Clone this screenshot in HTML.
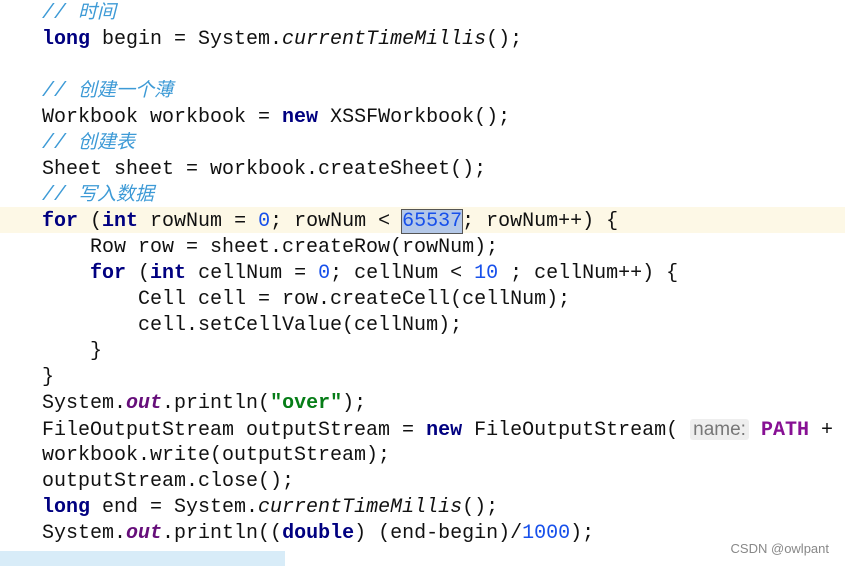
<!DOCTYPE html>
<html><head><meta charset="utf-8"><style>
body{margin:0;width:845px;height:566px;background:#fff;position:relative;overflow:hidden}
.code{position:absolute;left:42px;top:1px;font:20px "Liberation Mono","Noto Sans CJK SC",monospace;color:#111}
.code div{height:26px;line-height:26px;white-space:pre;overflow:visible}
.c{color:#3d9ad6;font-style:italic}
.c b{font-weight:normal;font-family:"Noto Sans CJK SC",sans-serif;font-size:19px;line-height:1}
.k{color:#000080;font-weight:bold}
.n{color:#1750eb}
.i{color:#660e7a;font-style:italic;font-weight:bold}
.s{color:#067d17;font-weight:bold}
.p{color:#871094;font-weight:bold}
.h{background:#b4c8e8;outline:1px solid #555}
.hint{background:#eee;color:#777;font-family:"Liberation Sans",sans-serif;font-size:19px;padding:0 3px;border-radius:3px}
.hl{position:absolute;left:0;top:207px;width:845px;height:26px;background:#fdf8e6}
.wm{position:absolute;right:16px;top:541px;color:#888;font:13px "Liberation Sans",sans-serif}
.bl{position:absolute;left:0;top:551px;width:285px;height:15px;background:#d8ecf8}
</style></head><body>
<div class="hl"></div>
<div class="bl"></div>
<div class="code">
<div><span class="c">// <b>时间</b></span></div>
<div><span class="k">long</span> begin = System.<i>currentTimeMillis</i>();</div>
<div> </div>
<div><span class="c">// <b>创建一个薄</b></span></div>
<div>Workbook workbook = <span class="k">new</span> XSSFWorkbook();</div>
<div><span class="c">// <b>创建表</b></span></div>
<div>Sheet sheet = workbook.createSheet();</div>
<div><span class="c">// <b>写入数据</b></span></div>
<div><span class="k">for</span> (<span class="k">int</span> rowNum = <span class="n">0</span>; rowNum &lt; <span class="n h">65537</span>; rowNum++) {</div>
<div>    Row row = sheet.createRow(rowNum);</div>
<div>    <span class="k">for</span> (<span class="k">int</span> cellNum = <span class="n">0</span>; cellNum &lt; <span class="n">10</span> ; cellNum++) {</div>
<div>        Cell cell = row.createCell(cellNum);</div>
<div>        cell.setCellValue(cellNum);</div>
<div>    }</div>
<div>}</div>
<div>System.<span class="i">out</span>.println(<span class="s">"over"</span>);</div>
<div>FileOutputStream outputStream = <span class="k">new</span> FileOutputStream( <span class="hint">name:</span> <span class="p">PATH</span> + <span class="s">"</span></div>
<div>workbook.write(outputStream);</div>
<div>outputStream.close();</div>
<div><span class="k">long</span> end = System.<i>currentTimeMillis</i>();</div>
<div>System.<span class="i">out</span>.println((<span class="k">double</span>) (end-begin)/<span class="n">1000</span>);</div>
</div>
<div class="wm">CSDN @owlpant</div>
</body></html>
